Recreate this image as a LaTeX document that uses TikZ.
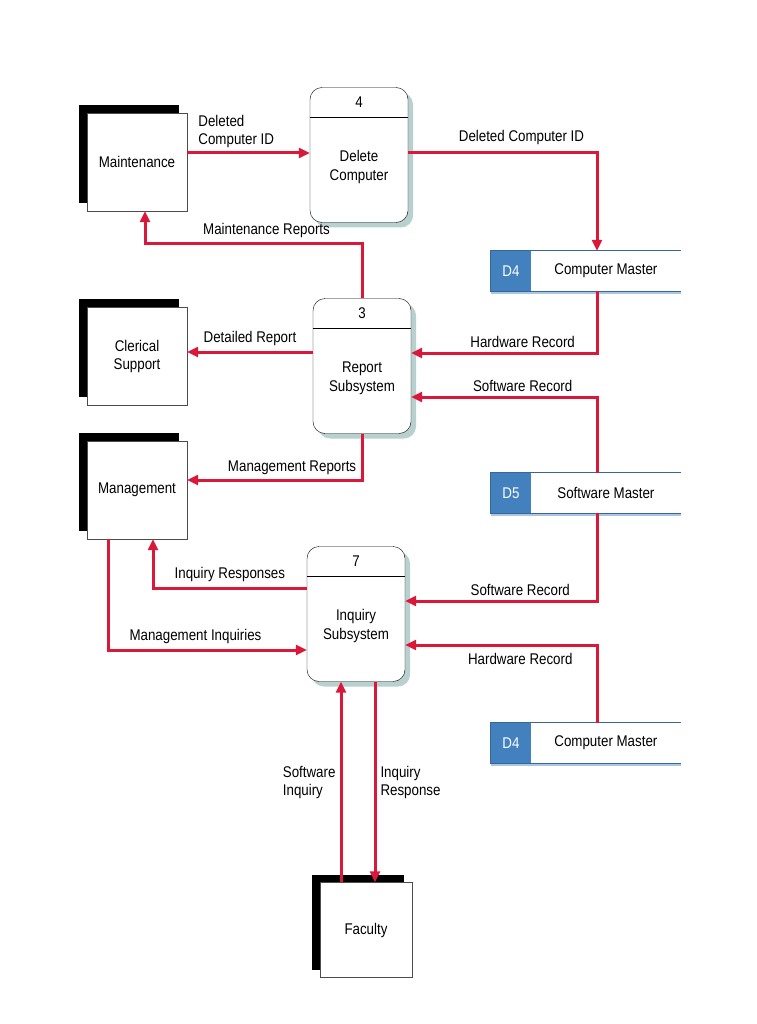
\documentclass[tikz,border=0pt]{standalone}
\usepackage{fontspec}
\setmainfont{Liberation Sans}[FakeStretch=0.86]
\usetikzlibrary{arrows.meta,calc}
\definecolor{flowred}{RGB}{218,24,58}
\definecolor{storeblue}{RGB}{66,128,190}
\definecolor{shadowgray}{RGB}{184,208,206}
\tikzset{
  entity/.style={draw=black!70, fill=white, minimum width=100pt, minimum height=98pt,
    align=center, font=\fontsize{15.5}{18}\selectfont,
    preaction={fill=black, transform canvas={shift={(-8pt,8pt)}}}},
  process/.style={draw=black, fill=white, rounded corners=12pt, minimum width=98pt,
    minimum height=135pt, preaction={fill=shadowgray, transform canvas={shift={(5pt,-5pt)}}}},
  ptext/.style={align=center, font=\fontsize{15.5}{19}\selectfont},
  storeid/.style={fill=storeblue, text=white, minimum width=40pt, minimum height=40pt,
    font=\fontsize{15.5}{18}\selectfont},
  storename/.style={minimum width=149pt, minimum height=40pt, font=\fontsize{15.5}{18}\selectfont},
  flow/.style={draw=flowred, line width=3pt, -{Triangle[length=11pt,width=10pt]}},
  lbl/.style={font=\fontsize{15.5}{18}\selectfont, align=left, inner sep=1pt}
}
\newcommand{\procbox}[5]{% name, x, y, number, text
  \node[process] (#1) at (#2,#3) {};
  \draw (#1.north west) ++(0,30) -- ($(#1.north east)+(0,30)$);
  \node[ptext] at ($(#1.north)+(0,15)$) {#4};
  \node[ptext] at ($(#1.center)+(0,12)$) {#5};
}
\newcommand{\datastore}[5]{% name, x, y, id, text
  \node[storeid] (#1id) at (#2,#3) {#4};
  \node[storename, anchor=west] (#1) at (#1id.east) {#5};
  \fill[storeblue!45] (#1id.south west) rectangle ($(#1.south east)+(0,3)$);
  \draw[storeblue!80!black, line width=1pt] (#1.north east) -- (#1id.north west) -- (#1id.south west) -- (#1.south east);
}
\begin{document}
\begin{tikzpicture}[x=1pt,y=-1pt]
  \useasboundingbox (0,0) rectangle (756,1024);

  % External entities.
  \node[entity] (maint) at (137,162) {Maintenance};
  \node[entity] (clerical) at (137,356) {Clerical\\Support};
  \node[entity] (mgmt) at (137,490) {Management};
  \node[entity, minimum width=92pt, minimum height=95pt] (faculty) at (366,930) {Faculty};

  % Processes.
  \procbox{delete}{359}{155}{4}{Delete\\Computer}
  \procbox{report}{362}{366}{3}{Report\\Subsystem}
  \procbox{inquiry}{356}{614}{7}{Inquiry\\Subsystem}

  % Data stores.
  \datastore{compA}{511}{271}{D4}{Computer Master}
  \datastore{soft}{511}{493}{D5}{Software Master}
  \datastore{compB}{511}{743}{D4}{Computer Master}

  % Flows.
  \draw[flow] (maint.east |- 0,153) -- (delete.west |- 0,153)
    node[lbl, pos=0.4, above=3pt] {Deleted\\Computer ID};
  \draw[flow] (delete.east |- 0,153) -| (597,0 |- compA.north)
    node[lbl, pos=0.3, above=6pt] {Deleted Computer ID};
  \draw[flow] (report.north) |- (145,243) node[lbl, pos=0.72, above=3pt] {Maintenance Reports} -- (145,0 |- maint.south);
  \draw[flow] (report.west |- 0,352) -- (clerical.east |- 0,352)
    node[lbl, midway, above=4pt] {Detailed Report};
  \draw[flow] (597,0 |- compA.south) |- (report.east |- 0,353)
    node[lbl, pos=0.7, above=3pt] {Hardware Record};
  \draw[flow] (597,0 |- soft.north) |- (report.east |- 0,397)
    node[lbl, pos=0.7, above=3pt] {Software Record};
  \draw[flow] (report.south) |- (mgmt.east |- 0,480)
    node[lbl, pos=0.7, above=3pt] {Management Reports};
  \draw[flow] (inquiry.west |- 0,588) -- (153,588)
    node[lbl, midway, above=4pt] {Inquiry Responses} -- (153,0 |- mgmt.south);
  \draw[flow] (108,0 |- mgmt.south) |- (inquiry.west |- 0,650)
    node[lbl, pos=0.72, above=4pt] {Management Inquiries};
  \draw[flow] (597,0 |- soft.south) |- (inquiry.east |- 0,601)
    node[lbl, pos=0.7, above=3pt] {Software Record};
  \draw[flow] (597,0 |- compB.north) |- (inquiry.east |- 0,645)
    node[lbl, pos=0.7, below=6pt] {Hardware Record};
  \draw[flow] (341,0 |- faculty.north) -- (341,0 |- inquiry.south)
    node[lbl, midway, left=3pt] {Software\\Inquiry};
  \draw[flow] (375,0 |- inquiry.south) -- (375,0 |- faculty.north)
    node[lbl, midway, right=3pt] {Inquiry\\Response};
\end{tikzpicture}
\end{document}
